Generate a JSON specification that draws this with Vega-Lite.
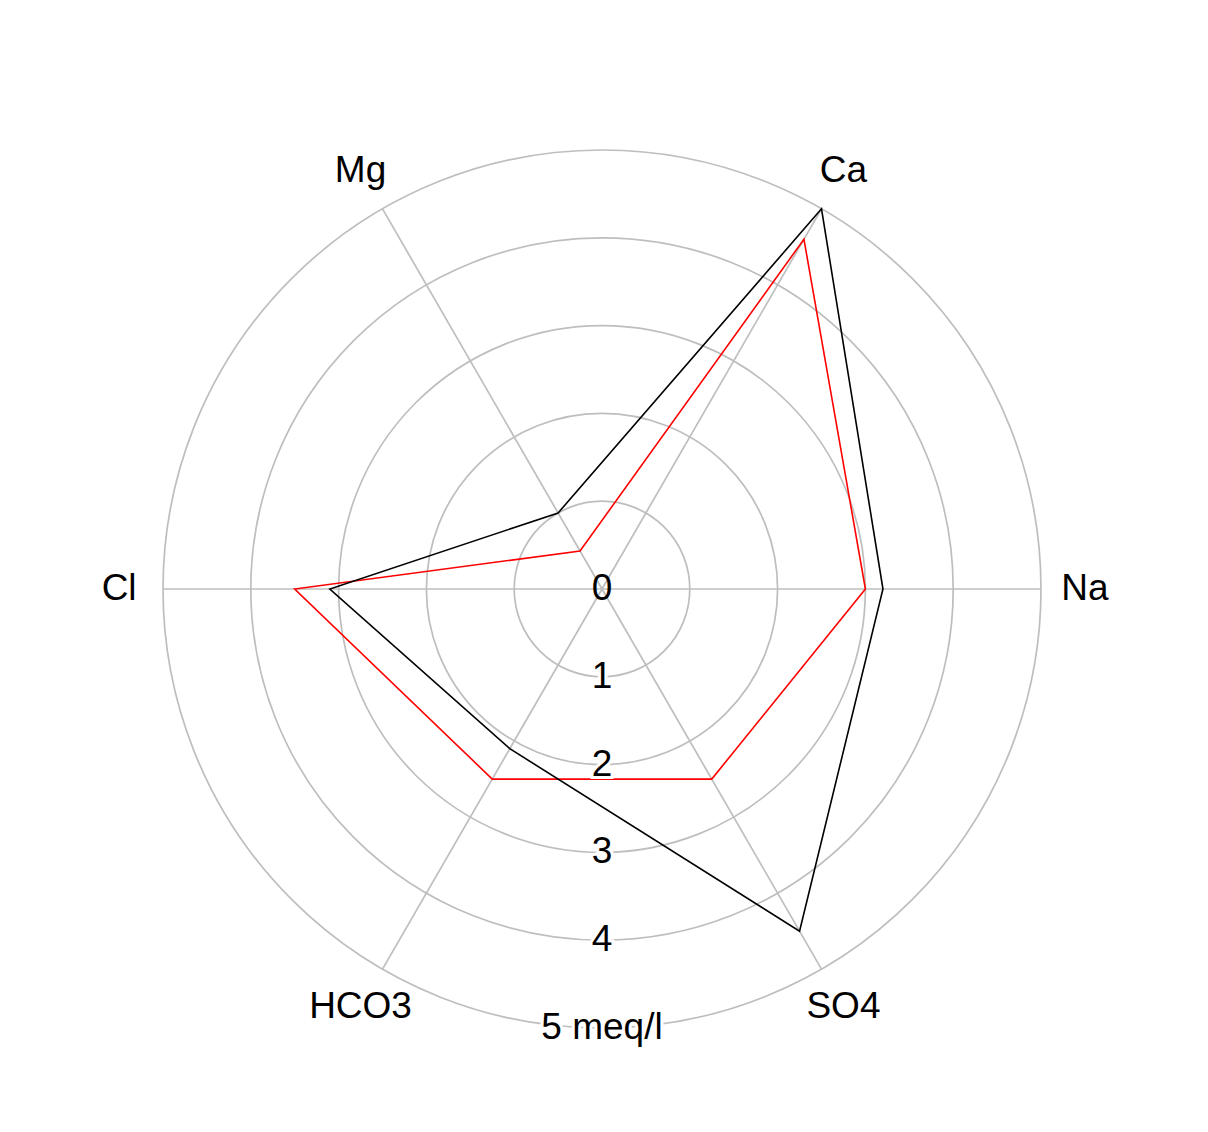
{
  "$schema": "https://vega.github.io/schema/vega-lite/v6.json",
  "width": 1208,
  "height": 1132,
  "autosize": {"type": "none"},
  "padding": 0,
  "background": "white",
  "config": {"view": {"stroke": null}, "text": {"font": "Liberation Sans"}},
  "datasets": {
    "axes": [
      {"variable": "Na", "idx": 0},
      {"variable": "Ca", "idx": 1},
      {"variable": "Mg", "idx": 2},
      {"variable": "Cl", "idx": 3},
      {"variable": "HCO3", "idx": 4},
      {"variable": "SO4", "idx": 5}
    ],
    "rings": [{"r": 1}, {"r": 2}, {"r": 3}, {"r": 4}, {"r": 5}],
    "ringlabels": [
      {"label": "0", "r": 0, "halo": false},
      {"label": "1", "r": 1, "halo": true},
      {"label": "2", "r": 2, "halo": true},
      {"label": "3", "r": 3, "halo": true},
      {"label": "4", "r": 4, "halo": true},
      {"label": "5 meq/l", "r": 5, "halo": true}
    ],
    "values": [
      {"sample": "Sample 2", "variable": "Na", "idx": 0, "meq": 3.0},
      {"sample": "Sample 2", "variable": "Ca", "idx": 1, "meq": 4.6},
      {"sample": "Sample 2", "variable": "Mg", "idx": 2, "meq": 0.5},
      {"sample": "Sample 2", "variable": "Cl", "idx": 3, "meq": 3.5},
      {"sample": "Sample 2", "variable": "HCO3", "idx": 4, "meq": 2.5},
      {"sample": "Sample 2", "variable": "SO4", "idx": 5, "meq": 2.5},
      {"sample": "Sample 1", "variable": "Na", "idx": 0, "meq": 3.2},
      {"sample": "Sample 1", "variable": "Ca", "idx": 1, "meq": 5.0},
      {"sample": "Sample 1", "variable": "Mg", "idx": 2, "meq": 1.0},
      {"sample": "Sample 1", "variable": "Cl", "idx": 3, "meq": 3.1},
      {"sample": "Sample 1", "variable": "HCO3", "idx": 4, "meq": 2.1},
      {"sample": "Sample 1", "variable": "SO4", "idx": 5, "meq": 4.5}
    ]
  },
  "layer": [
    {
      "data": {"name": "rings"},
      "transform": [{"calculate": "0", "as": "cx"}, {"calculate": "0", "as": "cy"}],
      "mark": {"type": "point", "shape": "circle", "filled": false, "color": "#BEBEBE", "strokeWidth": 1.7, "opacity": 1},
      "encoding": {
        "x": {"field": "cx", "type": "quantitative", "axis": null, "scale": {"domain": [-6.8565, 6.9021], "nice": false, "zero": false}},
        "y": {"field": "cy", "type": "quantitative", "axis": null, "scale": {"domain": [-6.1845, 6.7084], "nice": false, "zero": false}},
        "size": {"field": "r", "type": "quantitative", "legend": null, "scale": {"type": "pow", "exponent": 2, "domain": [0, 5], "range": [0, 770884], "zero": true}}
      }
    },
    {
      "data": {"name": "axes"},
      "transform": [
        {"calculate": "0", "as": "cx"},
        {"calculate": "0", "as": "cy"},
        {"calculate": "5*cos(datum.idx*PI/3)", "as": "ex"},
        {"calculate": "5*sin(datum.idx*PI/3)", "as": "ey"}
      ],
      "mark": {"type": "rule", "color": "#BEBEBE", "strokeWidth": 1.7},
      "encoding": {
        "x": {"field": "cx", "type": "quantitative", "axis": null, "scale": {"domain": [-6.8565, 6.9021], "nice": false, "zero": false}},
        "y": {"field": "cy", "type": "quantitative", "axis": null, "scale": {"domain": [-6.1845, 6.7084], "nice": false, "zero": false}},
        "x2": {"field": "ex"},
        "y2": {"field": "ey"}
      }
    },
    {
      "data": {"name": "values"},
      "transform": [
        {"calculate": "datum.meq*cos(datum.idx*PI/3)", "as": "px"},
        {"calculate": "datum.meq*sin(datum.idx*PI/3)", "as": "py"}
      ],
      "mark": {"type": "line", "interpolate": "linear-closed", "strokeWidth": 1.6},
      "encoding": {
        "x": {"field": "px", "type": "quantitative", "axis": null, "scale": {"domain": [-6.8565, 6.9021], "nice": false, "zero": false}},
        "y": {"field": "py", "type": "quantitative", "axis": null, "scale": {"domain": [-6.1845, 6.7084], "nice": false, "zero": false}},
        "color": {"field": "sample", "type": "nominal", "legend": null, "scale": {"domain": ["Sample 1", "Sample 2"], "range": ["#000000", "#FF0000"]}},
        "order": {"field": "idx", "type": "quantitative"}
      }
    },
    {
      "data": {"name": "ringlabels"},
      "transform": [
        {"filter": "datum.halo"},
        {"calculate": "0", "as": "cx"},
        {"calculate": "-datum.r", "as": "ly"}
      ],
      "mark": {"type": "text", "fontSize": 37, "align": "center", "baseline": "middle", "color": "white", "stroke": "white", "strokeWidth": 6},
      "encoding": {
        "x": {"field": "cx", "type": "quantitative", "axis": null, "scale": {"domain": [-6.8565, 6.9021], "nice": false, "zero": false}},
        "y": {"field": "ly", "type": "quantitative", "axis": null, "scale": {"domain": [-6.1845, 6.7084], "nice": false, "zero": false}},
        "text": {"field": "label"}
      }
    },
    {
      "data": {"name": "ringlabels"},
      "transform": [
        {"calculate": "0", "as": "cx"},
        {"calculate": "-datum.r", "as": "ly"}
      ],
      "mark": {"type": "text", "fontSize": 37, "align": "center", "baseline": "middle", "color": "black"},
      "encoding": {
        "x": {"field": "cx", "type": "quantitative", "axis": null, "scale": {"domain": [-6.8565, 6.9021], "nice": false, "zero": false}},
        "y": {"field": "ly", "type": "quantitative", "axis": null, "scale": {"domain": [-6.1845, 6.7084], "nice": false, "zero": false}},
        "text": {"field": "label"}
      }
    },
    {
      "data": {"name": "axes"},
      "transform": [
        {"calculate": "5.5*cos(datum.idx*PI/3)", "as": "lx"},
        {"calculate": "5.5*sin(datum.idx*PI/3)", "as": "ly"}
      ],
      "mark": {"type": "text", "fontSize": 37, "align": "center", "baseline": "middle", "color": "black"},
      "encoding": {
        "x": {"field": "lx", "type": "quantitative", "axis": null, "scale": {"domain": [-6.8565, 6.9021], "nice": false, "zero": false}},
        "y": {"field": "ly", "type": "quantitative", "axis": null, "scale": {"domain": [-6.1845, 6.7084], "nice": false, "zero": false}},
        "text": {"field": "variable"}
      }
    }
  ]
}
